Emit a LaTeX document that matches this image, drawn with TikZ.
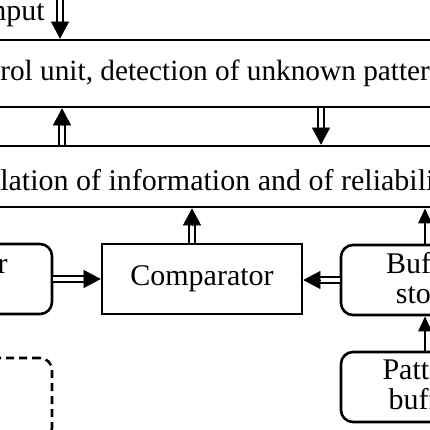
\documentclass[tikz,border=0pt]{standalone}
\usepackage{fontspec}
\setmainfont{Liberation Serif}
\usetikzlibrary{arrows.meta,calc}
\newcommand\dblarrow[2]{%
  \draw[dblshaft] (#1) -- (#2);
  \draw[dbltip] ($(#2)!17pt!(#1)$) -- (#2);}
\begin{document}
\begin{tikzpicture}[x=1pt,y=-1pt,line width=2.6pt,
  every node/.style={font=\fontsize{30}{29.5}\selectfont,inner sep=0pt},
  box/.style={draw,line width=2.6pt},
  rbox/.style={box,rounded corners=12pt},
  dbox/.style={rbox,dash pattern=on 8pt off 5pt},
  dblshaft/.style={double,double distance=3.5pt,line width=2.5pt,shorten >=15pt},
  dbltip/.style={line width=0.5pt,-{Triangle[length=17pt,width=18pt]}},
  sgl/.style={line width=2.6pt,-{Triangle[length=15pt,width=13pt]}}]
\useasboundingbox (0,0) rectangle (430,430);
\clip (0,0) rectangle (430,430);
% boxes
\node[box,minimum width=600pt,minimum height=67pt] (ctrl) at (215,73.5) {};
\node[box,minimum width=600pt,minimum height=61pt] (calc) at (215,176.5) {};
\node[box,minimum width=200pt,minimum height=70pt] (cmp) at (202,279) {Comparator};
\node[rbox,minimum width=202pt,minimum height=70pt] (left) at (-49,279) {};
\node[rbox,minimum width=168pt,minimum height=70pt] (buf) at (425,280) {};
\node[rbox,minimum width=168pt,minimum height=70pt] (pat) at (425,387) {};
\node[dbox,minimum width=202pt,minimum height=82pt] (dsh) at (-49,399) {};
% texts
\node[align=center,yshift=2pt] (tbuf) at (buf) {Buffer\\store};
\node[align=center,yshift=2pt] (tpat) at (pat) {Pattern\\buffer};
\node[anchor=base east] (tin) at (46,21) {nput};
\node[anchor=base west,font=\fontsize{29.3}{30}\selectfont] (tctrl) at (-1,81) {rol unit, detection of unknown patter};
\node[anchor=base west] (tcalc) at (-1,190) {lation of information and of reliabili};
\node[anchor=base east] (tleft) at (9,273) {r};
% helper coordinates
\coordinate (a1) at (60,-5);
\coordinate (a2) at (62,0);
\coordinate (a3) at (321,0);
\coordinate (a4) at (192,0);
\coordinate (p1) at (a1 |- ctrl.north);
\coordinate (p2) at (a2 |- calc.north);
\coordinate (p3) at (a2 |- ctrl.south);
\coordinate (p4) at (a3 |- ctrl.south);
\coordinate (p5) at (a3 |- calc.north);
\coordinate (p6) at (a4 |- cmp.north);
\coordinate (p7) at (a4 |- calc.south);
\coordinate (p8) at (buf.west -| cmp.east);
% connectors
\dblarrow{a1}{p1}
\dblarrow{p2}{p3}
\dblarrow{p4}{p5}
\dblarrow{p6}{p7}
\dblarrow{left.east}{cmp.west}
\dblarrow{buf.west}{p8}
\draw[sgl] (buf.north) -- (buf.north |- calc.south);
\draw[sgl] (pat.north) -- (buf.south);
\end{tikzpicture}
\end{document}
